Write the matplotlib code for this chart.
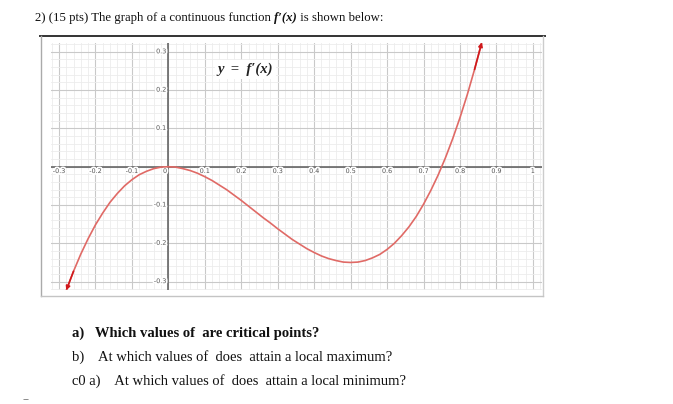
import matplotlib
matplotlib.use("Agg")
import matplotlib.pyplot as plt
import matplotlib.patheffects as pe
from matplotlib.lines import Line2D
import numpy as np

# ---- data ----
x_vals = [-0.28, -0.26, -0.24, -0.22, -0.20, -0.18, -0.16, -0.14, -0.12, -0.10,
          -0.08, -0.06, -0.04, -0.02, 0.00, 0.02, 0.04, 0.06, 0.08, 0.10,
          0.12, 0.14, 0.16, 0.18, 0.20, 0.22, 0.24, 0.26, 0.28, 0.30,
          0.32, 0.34, 0.36, 0.38, 0.40, 0.42, 0.44, 0.46, 0.48, 0.50,
          0.52, 0.54, 0.56, 0.58, 0.60, 0.62, 0.64, 0.66, 0.68, 0.70,
          0.72, 0.74, 0.76, 0.78, 0.80, 0.82, 0.84, 0.86]
y_vals = [-0.323, -0.273, -0.228, -0.188, -0.152, -0.121, -0.093, -0.070, -0.050, -0.034,
          -0.021, -0.012, -0.005, -0.001, 0.000, -0.001, -0.005, -0.010, -0.017, -0.026,
          -0.036, -0.048, -0.060, -0.074, -0.088, -0.103, -0.118, -0.133, -0.147, -0.162,
          -0.176, -0.190, -0.202, -0.214, -0.224, -0.233, -0.240, -0.245, -0.249, -0.250,
          -0.249, -0.245, -0.238, -0.229, -0.216, -0.200, -0.180, -0.157, -0.130, -0.098,
          -0.062, -0.022, 0.023, 0.073, 0.128, 0.188, 0.254, 0.325]

x_ticks = [-0.3, -0.2, -0.1, 0, 0.1, 0.2, 0.3, 0.4, 0.5, 0.6, 0.7, 0.8, 0.9, 1]
x_tick_labels = ["-0.3", "-0.2", "-0.1", "0", "0.1", "0.2", "0.3", "0.4", "0.5",
                 "0.6", "0.7", "0.8", "0.9", "1"]
y_ticks = [0.3, 0.2, 0.1, -0.1, -0.2, -0.3]
y_tick_labels = ["0.3", "0.2", "0.1", "-0.1", "-0.2", "-0.3"]

title_parts = ["2) (15 pts) The graph of a continuous function ", "f\u2032(x)", " is shown below:"]
curve_label = "y  =  f\u2032(x)"
questions = ["a)   Which values of  are critical points?",
             "b)    At which values of  does  attain a local maximum?",
             "c0 a)    At which values of  does  attain a local minimum?"]

W, H = 673, 404
fig = plt.figure(figsize=(W / 100, H / 100), dpi=100)
fig.patch.set_facecolor("white")

def fx(px):
    return px / W

def fy(py):
    return 1 - py / H

SERIF = ["Liberation Serif", "DejaVu Serif"]

# ---- surrounding box ----
fig.add_artist(Line2D([fx(40), fx(545)], [fy(36), fy(36)], color="#333333", lw=1.4,
                      transform=fig.transFigure))
fig.add_artist(Line2D([fx(40.5), fx(40.5)], [fy(36), fy(296)], color="#aaaaaa", lw=1.0,
                      transform=fig.transFigure))
fig.add_artist(Line2D([fx(543), fx(543)], [fy(36), fy(296)], color="#cccccc", lw=1.0,
                      transform=fig.transFigure))
fig.add_artist(Line2D([fx(40.5), fx(543)], [fy(295.5), fy(295.5)], color="#c4c4c4", lw=1.0,
                      transform=fig.transFigure))

# ---- axes ----
left, right, top, bottom = 50.7, 542, 42.7, 290
ax = fig.add_axes([fx(left), fy(bottom), (right - left) / W, (bottom - top) / H])
ax.set_xlim(-0.3226, 1.025)
ax.set_ylim(-0.3219, 0.3238)
for s in ax.spines.values():
    s.set_visible(False)
ax.set_xticks(np.arange(-0.3, 1.05, 0.1))
ax.set_yticks(np.arange(-0.3, 0.35, 0.1))
ax.set_xticks(np.arange(-0.32, 1.03, 0.02), minor=True)
ax.set_yticks(np.arange(-0.32, 0.33, 0.02), minor=True)
ax.tick_params(which="both", length=0, labelbottom=False, labelleft=False)
ax.grid(which="minor", color="#ececec", lw=0.6)
ax.grid(which="major", color="#c9c9c9", lw=0.8)
ax.set_axisbelow(True)
ax.axhline(0, color="#666666", lw=1.2, zorder=2)
ax.axvline(0, color="#666666", lw=1.2, zorder=2)

stroke = [pe.withStroke(linewidth=2.5, foreground="white")]
for v, lab in zip(x_ticks, x_tick_labels):
    dx = -0.009 if v == 0 else 0
    ax.text(v + dx, -0.006, lab, ha="center", va="top", fontsize=4.6,
            color="#555555", path_effects=stroke, zorder=3)
for v, lab in zip(y_ticks, y_tick_labels):
    ax.text(-0.006, v, lab, ha="right", va="center", fontsize=4.6,
            color="#555555", path_effects=stroke, zorder=3)

# ---- curve ----
ax.plot(x_vals, y_vals, color="#e06a66", lw=1.2, zorder=4, solid_capstyle="round")
ax.annotate("", xy=(x_vals[-1], y_vals[-1]), xytext=(x_vals[-2], y_vals[-2]),
            arrowprops=dict(arrowstyle="-|>", color="#d0191c", lw=1.2,
                            mutation_scale=6, shrinkA=0, shrinkB=0), zorder=5)
ax.annotate("", xy=(x_vals[0], y_vals[0]), xytext=(x_vals[1], y_vals[1]),
            arrowprops=dict(arrowstyle="-|>", color="#d0191c", lw=1.2,
                            mutation_scale=6, shrinkA=0, shrinkB=0), zorder=5)

ax.text(0.212, 0.255, curve_label, family=SERIF, fontsize=10.5, weight="bold",
        style="italic", ha="center", va="center", color="#222222",
        bbox=dict(facecolor="white", edgecolor="none", pad=2), zorder=3)

# ---- title (pieces chained one after another) ----
TS = 9.2
t0 = fig.text(fx(35), fy(21), title_parts[0], family=SERIF, fontsize=TS,
              ha="left", va="baseline", color="#111111")
t1 = ax.annotate(title_parts[1], xy=(1, 0), xycoords=t0, xytext=(0, 0),
                 textcoords="offset points", family=SERIF, fontsize=TS,
                 weight="bold", style="italic", ha="left", va="bottom",
                 color="#111111", annotation_clip=False)
t2 = ax.annotate(title_parts[2], xy=(1, 0), xycoords=t1, xytext=(0, 0),
                 textcoords="offset points", family=SERIF, fontsize=TS,
                 ha="left", va="bottom", color="#111111", annotation_clip=False)

# ---- questions ----
q_y = [333, 357, 381]
for i, (q, yy) in enumerate(zip(questions, q_y)):
    fig.text(fx(72), fy(yy), q, family=SERIF, fontsize=10.5,
             weight="bold" if i == 0 else "normal", ha="left", va="center",
             color="#111111")

fig.text(fx(23), fy(399), "--", fontsize=7, color="#777777", ha="left", va="center")

fig.savefig("out.png", dpi=100, facecolor="white")
